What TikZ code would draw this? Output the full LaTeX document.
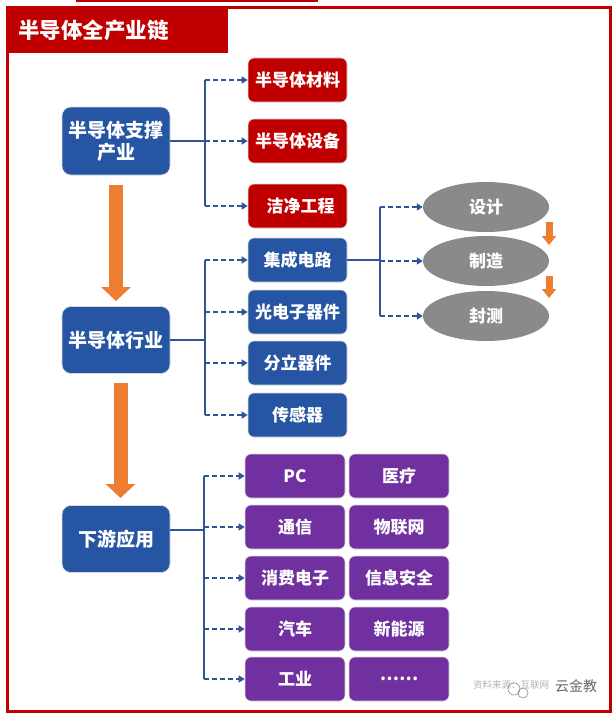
\documentclass[tikz,border=0pt]{standalone}
\usepackage{fontspec}
\setmainfont{Noto Sans CJK SC}
\usetikzlibrary{arrows.meta,shapes.geometric}
\definecolor{cblue}{HTML}{2655A3}
\definecolor{cred}{HTML}{C00000}
\definecolor{cpurple}{HTML}{7030A0}
\definecolor{cgray}{HTML}{8A8A8A}
\definecolor{corange}{HTML}{ED7D31}
\definecolor{cline}{HTML}{2F5597}
\begin{document}
\begin{tikzpicture}[x=1pt,y=-1pt,
  basebox/.style={rounded corners=6pt, minimum width=99pt, minimum height=44pt, inner sep=0pt, text=white, font=\bfseries\fontsize{17}{20}\selectfont, draw=white!85!black, line width=0.6pt},
  redbox/.style={basebox, fill=cred},
  bluebox/.style={basebox, fill=cblue},
  purpbox/.style={basebox, fill=cpurple, minimum width=100pt},
  bigbox/.style={basebox, fill=cblue, rounded corners=9pt, minimum width=108pt, minimum height=67pt, align=center, font=\bfseries\fontsize{19}{22}\selectfont},
  ell/.style={ellipse, fill=cgray, minimum width=126pt, minimum height=50pt, inner sep=0pt, text=white, font=\bfseries\fontsize{17}{20}\selectfont},
  conn/.style={draw=cline, line width=1.6pt},
  dconn/.style={draw=cline, line width=1.6pt, dash pattern=on 5pt off 3pt, -{Triangle[length=6pt,width=7pt]}},
  bigarrow/.style={draw=corange, line width=14pt, -{Triangle[length=14pt,width=29pt]}},
  smallarrow/.style={draw=corange, line width=7pt, -{Triangle[length=9pt,width=14pt]}}
]
\useasboundingbox (0,0) rectangle (613,717);
% frame and title
\fill[cred] (76,0) rectangle (318,2);
\draw[cred, line width=3pt] (7.5,7.5) rectangle (610.5,711.5);
\fill[cred] (6,6) rectangle (228,53);
\node[anchor=west, text=white, inner sep=0pt, font=\bfseries\fontsize{21.5}{24}\selectfont] (title) at (18,30) {半导体全产业链};

% left boxes
\node[bigbox, minimum height=68pt] (B1) at (116,141) {半导体支撑\\产业};
\node[bigbox] (B2) at (116,340) {半导体行业};
\node[bigbox] (B3) at (116,539) {下游应用};

% orange arrows
\coordinate (a1s) at (116,185);
\coordinate (a1e) at (116,301);
\coordinate (a2s) at (120.5,383);
\coordinate (a2e) at (120.5,498);
\draw[bigarrow] (a1s) -- (a1e);
\draw[bigarrow] (a2s) -- (a2e);

% red boxes
\node[redbox] (R1) at (297.5,80) {半导体材料};
\node[redbox] (R2) at (297.5,141) {半导体设备};
\node[redbox] (R3) at (297.5,206) {\hspace{6pt}洁净工程};

% blue boxes
\node[bluebox] (C1) at (297.5,260) {集成电路};
\node[bluebox] (C2) at (297.5,312) {光电子器件};
\node[bluebox] (C3) at (297.5,363) {分立器件};
\node[bluebox] (C4) at (297.5,415) {传感器};

% ellipses
\node[ell] (E1) at (486,207) {设计};
\node[ell] (E2) at (486,261) {制造};
\node[ell] (E3) at (486,316) {封测};
\draw[smallarrow] (549,222) -- (549,245);
\draw[smallarrow] (549,276) -- (549,298);

% purple boxes
\node[purpbox] (P1) at (295,476) {PC};
\node[purpbox] (Q1) at (399,476) {医疗};
\node[purpbox] (P2) at (295,527) {通信};
\node[purpbox] (Q2) at (399,527) {物联网};
\node[purpbox] (P3) at (295,578) {消费电子};
\node[purpbox] (Q3) at (399,578) {信息安全};
\node[purpbox] (P4) at (295,629) {汽车};
\node[purpbox] (Q4) at (399,629) {新能源};
\node[purpbox] (P5) at (295,679) {工业};
\node[purpbox] (Q5) at (399,679) {……};

% connectors B1
\coordinate (j1) at (205,141);
\draw[conn] (B1.east |- j1) -- (j1);
\draw[conn] (j1 |- R1) -- (j1 |- R3);
\draw[dconn] (j1 |- R1) -- (R1.west);
\draw[dconn] (j1 |- R2) -- (R2.west);
\draw[dconn] (j1 |- R3) -- (R3.west);

% connectors B2
\coordinate (j2) at (205,340);
\draw[conn] (B2.east |- j2) -- (j2);
\draw[conn] (j2 |- C1) -- (j2 |- C4);
\draw[dconn] (j2 |- C1) -- (C1.west);
\draw[dconn] (j2 |- C2) -- (C2.west);
\draw[dconn] (j2 |- C3) -- (C3.west);
\draw[dconn] (j2 |- C4) -- (C4.west);

% connectors IC
\coordinate (jc) at (380,260);
\draw[conn] (C1.east) -- (jc);
\draw[conn] (jc |- E1) -- (jc |- E3);
\draw[dconn] (jc |- E1) -- (E1.west);
\draw[dconn] (jc |- E2) -- (E2.west);
\draw[dconn] (jc |- E3) -- (E3.west);

% connectors B3
\coordinate (j3) at (204,530);
\draw[conn] (B3.east |- j3) -- (j3);
\draw[conn] (j3 |- P1) -- (j3 |- P5);
\draw[dconn] (j3 |- P1) -- (P1.west);
\draw[dconn] (j3 |- P2) -- (P2.west);
\draw[dconn] (j3 |- P3) -- (P3.west);
\draw[dconn] (j3 |- P4) -- (P4.west);
\draw[dconn] (j3 |- P5) -- (P5.west);

% watermark
\node[text=black!30, inner sep=0pt, font=\fontsize{9.5}{11}\selectfont] (src) at (511,685) {资料来源：互联网};
\draw[black!45, line width=0.6pt] (514,689) circle (6pt);
\draw[black!45, line width=0.6pt] (523,693) circle (5pt);
\node[text=black!60, inner sep=0pt, font=\fontsize{14}{16}\selectfont] (wm) at (576,686) {云金教};
\end{tikzpicture}
\end{document}
